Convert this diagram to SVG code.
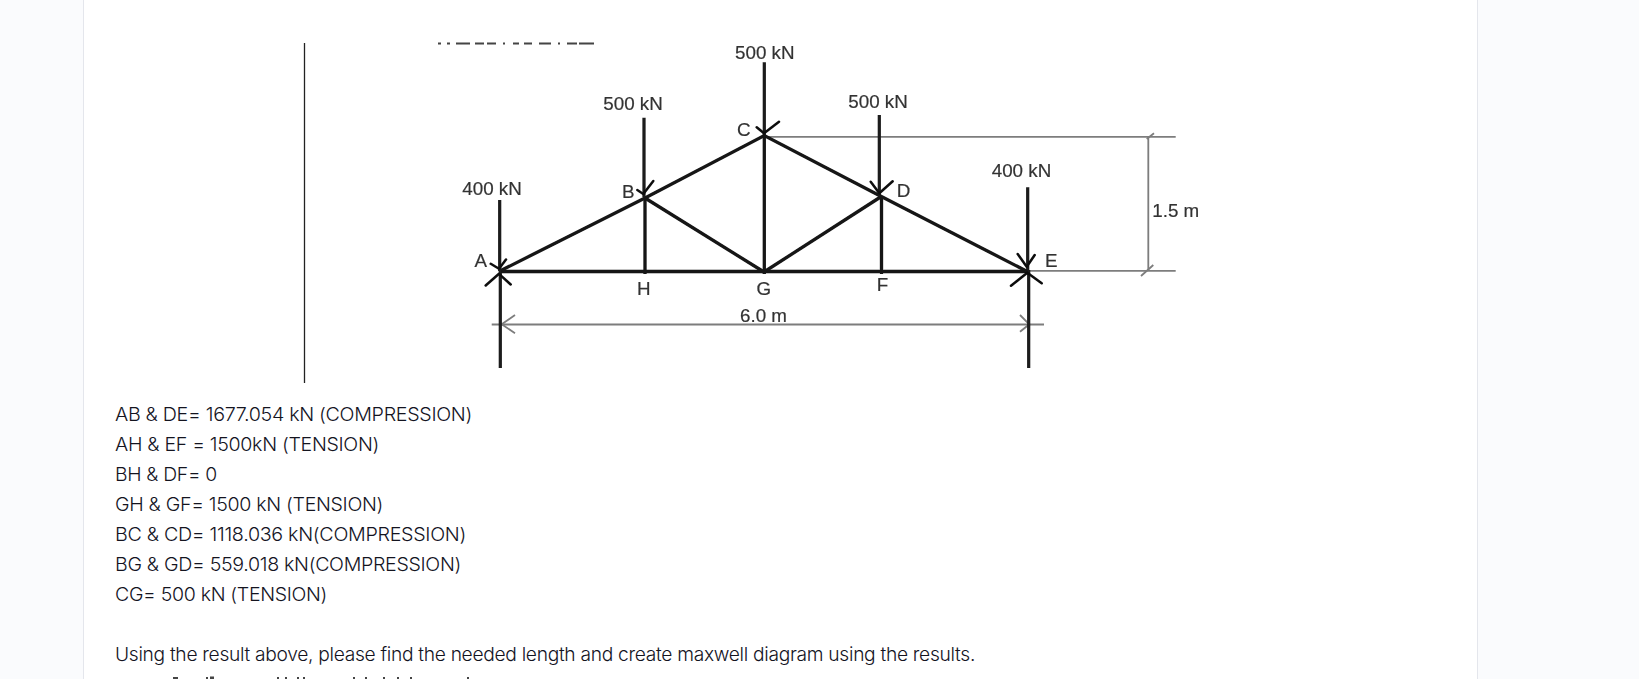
<svg xmlns="http://www.w3.org/2000/svg" width="1639" height="679" viewBox="0 0 1639 679">
<style>
.m{stroke:#141414;stroke-width:3.300;fill:none;stroke-linecap:butt}
.l{stroke:#1a1a1a;stroke-width:3.200;fill:none}
.d{stroke:#7d7d7d;stroke-width:1.800;fill:none}
.h{stroke:#0c0c0c;stroke-width:2.500;fill:none;stroke-linecap:round;stroke-linejoin:round}
.t{font-family:"Liberation Sans",Arial,sans-serif;font-size:18.800px;fill:#333;stroke:#333;stroke-width:.2px}
.b{font-family:Inter,"Liberation Sans",sans-serif;font-size:18.500px;font-weight:300;fill:#14141f;letter-spacing:-.3px}
.s{fill:#444}
</style>
<defs><filter id="soft" x="-5%" y="-5%" width="110%" height="110%"><feGaussianBlur stdDeviation="0.5"/></filter></defs>
<rect width="1639" height="679" fill="#fafbfd"/>
<rect x="83.500" y="-2" width="1394" height="690" fill="#fff" stroke="#e4e6ec"/>
<line x1="304.500" y1="43" x2="304.500" y2="383" stroke="#222" stroke-width="1.300"/>
<g id="clipped-top" class="s" filter="url(#soft)">
<rect x="438" y="42.500" width="3" height="2"/><rect x="447" y="42.500" width="3" height="2"/><rect x="456" y="42.500" width="14" height="2"/><rect x="475" y="42.500" width="9" height="2"/><rect x="487" y="42.500" width="9" height="2"/><rect x="503" y="42.500" width="2" height="2"/><rect x="513" y="42.500" width="6" height="2"/><rect x="524" y="42.500" width="8" height="2"/><rect x="539" y="42.500" width="12" height="2"/><rect x="558" y="42.500" width="2" height="2"/><rect x="567" y="42.500" width="10" height="2"/><rect x="579" y="42.500" width="15" height="2"/>
</g>
<g id="connectors" filter="url(#soft)">
<g id="dimensions">
<path class="d" d="M764 136.800H1175.700M1028 270.800H1175.700M1148.300 136V271M491.700 324.500H1044"/>
<path class="d" d="M515 315L501.700 324.300L515 333.300M1020 315L1029.300 324.300L1020 331.700M1146.700 139L1154 133.300M1141 276L1153.300 265"/>
</g>
<g id="members">
<path class="m" d="M499 271.500L645 198L764.300 135.500L881.300 196.500L1027.300 271.500"/>
<path class="m" d="M499 271.500H1027.500"/>
<path class="m" d="M645 198L764 272L881.300 196.500"/>
<path class="m" d="M645 198V274M764.300 135.500V274M881.500 196.500V274"/>
</g>
<g id="loads">
<path class="l" d="M499.700 200V271M500.300 271V368M644 117.700V197M764.300 62.300V135M879.300 115V196M1027.700 187.300V270M1028.700 270V368"/>
</g>
</g>
<g filter="url(#soft)">
<g id="node-A"><path class="h" d="M490.700 263.800L499 268.800L506 259.500M485.700 285.500L499 273.800L510.700 284.500"/><text class="t" x="474.500" y="266.700">A</text></g>
<g id="node-B"><path class="h" d="M637.300 190L643.300 194L653.300 181"/><text class="t" x="622" y="198.300">B</text></g>
<g id="node-C"><path class="h" d="M756.700 127.300L764 133.300L779 121.700"/><text class="t" x="737" y="135.700">C</text></g>
<g id="node-D"><path class="h" d="M870.700 181.700L879.300 193.300L892.700 181.300"/><text class="t" x="896.700" y="196.700">D</text></g>
<g id="node-E"><path class="h" d="M1017.700 254L1026.700 266.700L1034.700 255M1011 285.700L1027.300 272.800L1041.700 283.300"/><text class="t" x="1045" y="266.700">E</text></g>
<g id="node-F"><text class="t" x="876.700" y="291.200">F</text></g>
<g id="node-G"><text class="t" x="756.500" y="295">G</text></g>
<g id="node-H"><text class="t" x="637" y="295">H</text></g>
<g id="labels">
<text class="t" x="462.300" y="194.500">400 kN</text>
<text class="t" x="603.300" y="110.200">500 kN</text>
<text class="t" x="735" y="58.800">500 kN</text>
<text class="t" x="848.300" y="107.500">500 kN</text>
<text class="t" x="991.700" y="177">400 kN</text>
<text class="t" x="740" y="322.300">6.0 m</text>
<text class="t" x="1152.300" y="216.700">1.5 m</text>
</g>
</g>
<g id="results">
<text class="b" x="115" y="421" textLength="357" lengthAdjust="spacingAndGlyphs">AB &amp; DE= 1677.054 kN (COMPRESSION)</text>
<text class="b" x="115" y="451" textLength="264" lengthAdjust="spacingAndGlyphs">AH &amp; EF = 1500kN (TENSION)</text>
<text class="b" x="115" y="481" textLength="102" lengthAdjust="spacingAndGlyphs">BH &amp; DF= 0</text>
<text class="b" x="115" y="511" textLength="268" lengthAdjust="spacingAndGlyphs">GH &amp; GF= 1500 kN (TENSION)</text>
<text class="b" x="115" y="541" textLength="351" lengthAdjust="spacingAndGlyphs">BC &amp; CD= 1118.036 kN(COMPRESSION)</text>
<text class="b" x="115" y="571" textLength="346" lengthAdjust="spacingAndGlyphs">BG &amp; GD= 559.018 kN(COMPRESSION)</text>
<text class="b" x="115" y="601" textLength="212" lengthAdjust="spacingAndGlyphs">CG= 500 kN (TENSION)</text>
<text class="b" x="115" y="661" textLength="860" lengthAdjust="spacingAndGlyphs">Using the result above, please find the needed length and create maxwell diagram using the results.</text>
</g>
<g id="clipped-bottom" class="s" filter="url(#soft)">
<rect x="173" y="677" width="5" height="2"/><rect x="206" y="677" width="2" height="2"/><rect x="210" y="676.500" width="4" height="2.500"/><rect x="277" y="677" width="2" height="2"/><rect x="285" y="677" width="2" height="2"/><rect x="297" y="677" width="2" height="2"/><rect x="303" y="677" width="2" height="2"/><rect x="353" y="677" width="2" height="2"/><rect x="365" y="677" width="2" height="2"/><rect x="383" y="677" width="2" height="2"/><rect x="397" y="677" width="2" height="2"/><rect x="410" y="677" width="2" height="2"/><rect x="467" y="677" width="2" height="2"/>
</g>
</svg>
